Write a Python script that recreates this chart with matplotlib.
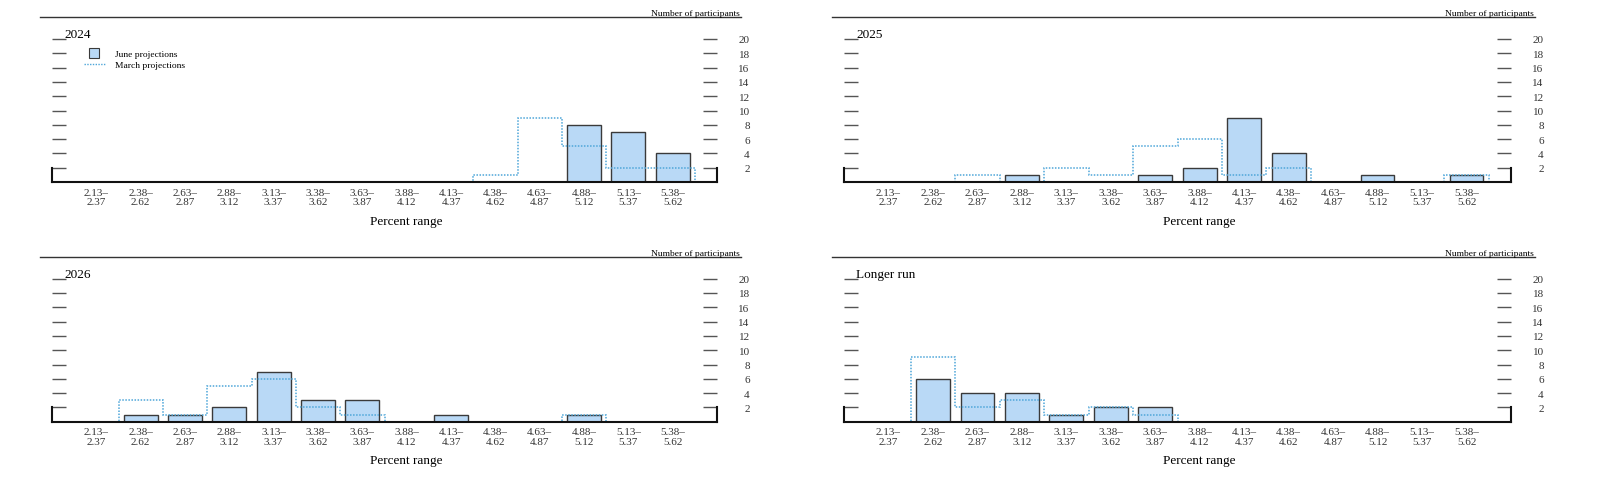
import numpy as np
import matplotlib
matplotlib.use("Agg")
import matplotlib.pyplot as plt
from matplotlib.lines import Line2D

plt.rcParams["font.family"] = ["Liberation Serif", "DejaVu Serif"]

ranges = ["2.13–\n2.37", "2.38–\n2.62", "2.63–\n2.87", "2.88–\n3.12", "3.13–\n3.37",
          "3.38–\n3.62", "3.63–\n3.87", "3.88–\n4.12", "4.13–\n4.37", "4.38–\n4.62",
          "4.63–\n4.87", "4.88–\n5.12", "5.13–\n5.37", "5.38–\n5.62"]
panel_names = ["2024", "2025", "2026", "Longer run"]

june_2024 = [0, 0, 0, 0, 0, 0, 0, 0, 0, 0, 0, 8, 7, 4]
march_2024 = [0, 0, 0, 0, 0, 0, 0, 0, 0, 1, 9, 5, 2, 2]
june_2025 = [0, 0, 0, 1, 0, 0, 1, 2, 9, 4, 0, 1, 0, 1]
march_2025 = [0, 0, 1, 0, 2, 1, 5, 6, 1, 2, 0, 0, 0, 1]
june_2026 = [0, 1, 1, 2, 7, 3, 3, 0, 1, 0, 0, 1, 0, 0]
march_2026 = [0, 3, 1, 5, 6, 2, 1, 0, 0, 0, 0, 1, 0, 0]
june_lr = [0, 6, 4, 4, 1, 2, 2, 0, 0, 0, 0, 0, 0, 0]
march_lr = [0, 9, 2, 3, 1, 2, 1, 0, 0, 0, 0, 0, 0, 0]

june_all = [june_2024, june_2025, june_2026, june_lr]
march_all = [march_2024, march_2025, march_2026, march_lr]

BAR = "#b9d9f6"
EDGE = "#3a3a3a"
DOT = "#4ea6d9"
TXT = "#333333"

W, H = 1600, 485
fig = plt.figure(figsize=(16, 4.85), dpi=100)

# axes boxes in pixels: left, baseline y (from top), width
boxes = [(52, 183, 665), (844, 183, 667), (52, 422.7, 665), (844, 422.7, 667)]
ymax = 22
unit_px = 7.15

x = np.arange(len(ranges))
edges = np.arange(len(ranges) + 1) - 0.5

for i, name in enumerate(panel_names):
    left, base, width = boxes[i]
    ax = fig.add_axes([left / W, (H - base) / H, width / W, ymax * unit_px / H])

    ax.bar(x, june_all[i], width=0.76, color=BAR, edgecolor=EDGE, linewidth=1, zorder=2)
    ax.stairs(march_all[i], edges, baseline=0, color=DOT, linestyle=(0, (1, 1)),
              linewidth=1.1, zorder=2.4)

    ax.set_xlim(-1, 14)
    ax.set_ylim(0, ymax)

    ax.spines["top"].set_visible(False)
    ax.spines["left"].set_bounds(0, 2)
    ax.spines["right"].set_bounds(0, 2)
    for s in ["left", "right", "bottom"]:
        ax.spines[s].set_linewidth(1.5)
        ax.spines[s].set_color("#111111")

    yt = list(range(2, 21, 2))
    ax.set_yticks(yt, [str(v) for v in yt])
    ax.tick_params(axis="y", direction="in", length=10, width=1, color="#555555",
                   left=True, right=True, labelleft=False, labelright=True,
                   labelsize=8, labelcolor=TXT, pad=23.5)
    for t in ax.yaxis.get_major_ticks():
        t.label2.set_horizontalalignment("right")

    ax.set_xticks(x, ranges)
    ax.tick_params(axis="x", length=0, pad=4, labelsize=8, labelcolor=TXT)
    for lab in ax.get_xticklabels():
        lab.set_linespacing(1.05)

    ax.text(7, -0.245, "Percent range", transform=ax.get_xaxis_transform(),
            ha="center", va="center", fontsize=9.5)

    ax.annotate(name, xy=(0, 20), xycoords=("axes fraction", "data"),
                xytext=(9, 1.2), textcoords="offset points",
                fontsize=9.5, va="baseline", ha="left")

    ax.plot([-0.018, 1.036], [1.049, 1.049], transform=ax.transAxes,
            clip_on=False, color="#333333", lw=1)
    ax.text(1.0346, 1.061, "Number of participants", transform=ax.transAxes,
            ha="right", va="baseline", fontsize=6.8)

    if i == 0:
        handles = [Line2D([], [], marker="s", ms=7.5, mfc=BAR, mec=EDGE, mew=0.8, ls="none"),
                   Line2D([], [], color=DOT, ls=(0, (1, 1)), lw=1)]
        ax.legend(handles, ["June projections", "March projections"], loc="upper left",
                  bbox_to_anchor=(0.048, 0.84), frameon=False, fontsize=6.8,
                  handlelength=2.2, handletextpad=1.1, labelspacing=0.2,
                  borderaxespad=0, borderpad=0)

fig.savefig("out.png", dpi=100)
